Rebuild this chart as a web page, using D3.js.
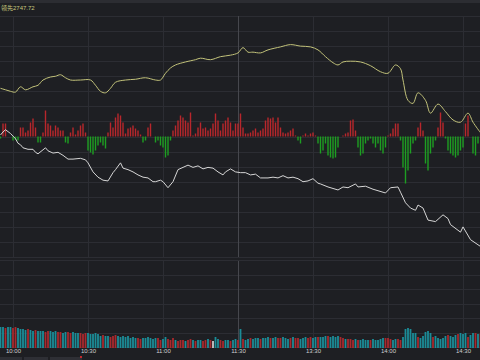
<!DOCTYPE html>
<html>
<head>
<meta charset="utf-8">
<script src="https://cdn.jsdelivr.net/npm/d3@7"></script>
<style>
  body { margin: 0; background: #1e1f23; }
  svg { display: block; }
</style>
</head>
<body>
<div class="chart"></div>
<script>
// session minute: 0 = 09:30, 120 = 11:30 / 13:00, 240 = 15:00
var tickMinutes = [30, 60, 90, 120, 150, 180, 210];
var tickLabels = ["10:00", "10:30", "11:00", "11:30", "13:30", "14:00", "14:30"];
var headerLabel = "领先2747.72";

// leading index, % change vs previous close
var leadLine = [
  [25,0.64],[27,0.62],[29,0.60],[31,0.59],[33,0.66],[35,0.62],[38,0.66],[40,0.68],
  [42,0.75],[45,0.79],[47,0.80],[49,0.82],[51,0.78],[53,0.75],[57,0.75],[61,0.75],
  [63,0.68],[65,0.60],[67,0.58],[69,0.64],[71,0.72],[75,0.75],[79,0.76],[83,0.78],
  [87,0.75],[89,0.75],[91,0.84],[93,0.91],[95,0.95],[99,0.99],[103,1.02],[105,1.04],
  [109,1.02],[113,1.06],[117,1.08],[120,1.11],[122,1.18],[124,1.12],[126,1.12],[129,1.11],
  [132,1.15],[137,1.19],[141,1.22],[145,1.20],[149,1.19],[152,1.15],[155,1.06],[158,0.98],
  [160,0.95],[162,0.99],[165,1.00],[169,0.99],[173,0.94],[177,0.86],[180,0.84],[183,0.95],
  [185,0.90],[186,0.75],[188,0.48],[190,0.44],[192,0.58],[195,0.48],[197,0.31],[200,0.43],
  [203,0.33],[206,0.22],[209,0.19],[212,0.31],[214,0.19],[217,0.05]
];

// index price, % change vs previous close
var priceLine = [
  [25,0.02],[26,0.06],[27,0.09],[29,0.04],[31,-0.03],[32,-0.09],[33,-0.11],[34,-0.15],
  [36,-0.17],[38,-0.17],[39,-0.21],[40,-0.23],[43,-0.15],[44,-0.19],[46,-0.22],[48,-0.21],
  [50,-0.25],[52,-0.30],[54,-0.30],[57,-0.29],[59,-0.31],[60,-0.35],[62,-0.47],[64,-0.54],
  [66,-0.58],[68,-0.59],[70,-0.48],[71,-0.44],[73,-0.35],[74,-0.42],[76,-0.44],[78,-0.47],
  [80,-0.51],[82,-0.54],[84,-0.55],[86,-0.60],[87,-0.60],[89,-0.58],[90,-0.60],[92,-0.68],
  [94,-0.60],[96,-0.44],[98,-0.41],[100,-0.38],[102,-0.41],[104,-0.39],[106,-0.43],[108,-0.41],
  [110,-0.42],[112,-0.47],[114,-0.51],[115,-0.47],[117,-0.43],[119,-0.47],[121,-0.48],[123,-0.48],
  [125,-0.51],[127,-0.50],[129,-0.55],[132,-0.55],[134,-0.54],[136,-0.55],[138,-0.52],[140,-0.55],
  [142,-0.54],[144,-0.56],[146,-0.60],[148,-0.59],[150,-0.56],[152,-0.62],[153,-0.63],[156,-0.67],
  [160,-0.71],[162,-0.67],[164,-0.68],[167,-0.63],[168,-0.67],[171,-0.66],[174,-0.70],[179,-0.75],
  [181,-0.68],[184,-0.67],[185,-0.74],[187,-0.88],[189,-0.95],[191,-0.98],[192,-0.91],[194,-0.95],
  [196,-1.11],[199,-1.13],[202,-1.04],[204,-1.09],[205,-1.17],[209,-1.27],[210,-1.20],[213,-1.37],
  [217,-1.46]
];

// one value per minute, starting at minute 25
var barStart = 25;
var flowBars = [
  -2, 13, 13, 0, 0, -4, -3, -4, 9, 9,
  4, 6, 14, 18, 9, -6, -6, 4, 26, 13,
  11, 6, 11, 9, 6, 6, -6, -7, 4, 9,
  2, 6, 11, 13, 4, -14, -16, -18, -14, -9,
  -6, -9, -12, 4, 14, 9, 19, 23, 21, 14,
  3, 8, 9, 11, 8, 6, 2, -6, -4, 9,
  13, 0, -6, -4, -9, -11, -21, -19, -4, 6,
  11, 16, 21, 19, 16, 14, 24, 1, 3, 9,
  14, 8, 9, 6, 8, 13, 23, 16, 6, 13,
  16, 19, 14, 6, 13, 13, 23, 9, 3, 3,
  4, 6, 8, 4, 6, 8, 16, 19, 18, 19,
  14, 19, 9, 4, 3, 4, 6, 8, 1, -4,
  -7, 1, 3, 1, 3, 4, 1, -7, -17, -14,
  -7, -19, -21, -22, -21, -11, 0, 1, 3, 4,
  16, 17, 6, -11, -19, -17, -7, -4, -2, -7,
  -11, -7, -14, -17, -11, 1, 3, 8, 13, 13,
  -4, -31, -47, -34, -17, -7, -4, 9, 14, 6,
  -27, -34, -17, -11, -4, 9, 24, 14, -2, -14,
  -17, -19, -21, -19, -14, -11, 13, 21, 0, -17,
  -19, -7, 0
];

var volBars = [
  21, 21, 20, 21, 21, 20, 21, 20, 19, 19,
  18, 19, 18, 17, 18, 17, 17, 17, 16, 17,
  17, 16, 17, 16, 16, 15, 16, 16, 15, 16,
  15, 15, 15, 14, 15, 15, 14, 14, 15, 14,
  12, 13, 12, 12, 11, 12, 13, 12, 11, 12,
  11, 12, 10, 11, 10, 10, 9, 10, 10, 11,
  10, 9, 10, 10, 8, 9, 11, 9, 8, 10,
  8, 7, 8, 8, 7, 8, 9, 8, 7, 8,
  8, 7, 8, 9, 8, 7, 11, 9, 8, 7,
  8, 8, 7, 8, 9, 8, 19, 9, 8, 9,
  10, 9, 10, 10, 9, 10, 10, 11, 10, 10,
  11, 10, 10, 11, 10, 9, 10, 11, 10, 10,
  9, 10, 11, 10, 11, 10, 11, 11, 11, 11,
  12, 12, 11, 12, 11, 12, 11, 10, 9, 9,
  9, 8, 9, 8, 8, 9, 8, 8, 8, 9,
  8, 8, 9, 10, 10, 10, 9, 8, 9, 9,
  8, 11, 19, 20, 19, 15, 15, 11, 10, 12,
  16, 17, 15, 11, 12, 10, 9, 10, 12, 13,
  12, 11, 13, 14, 15, 14, 15, 11, 13, 15,
  15, 14, 14
];
// + up minute, - down minute, 0 unchanged
var volDir =
  "--+--++-" + "---+--+---" + "++---++--++---+++" + "------+--+++" +
  "--------++------+" + "+--+++-++" + "+-++-+--" + "++-+0--+" + "+--+--+-" +
  "+--+---+-" + "--+--++---" + "+-++---++--+" + "---+----++-" + "+++-+" +
  "----+-----" + "+++--++" + "------+-" + "----+-" + "----+-" + "--+---+" + "--+-+";

var width = 480, height = 360;
var mainTop = 16, mainBottom = 257, volTop = 261, volBottom = 348;

var svg = d3.select(".chart").append("svg")
    .attr("width", width)
    .attr("height", height)
    .style("font-family", "'Liberation Sans', 'Noto Sans CJK SC', sans-serif");

svg.append("rect")
    .attr("width", width).attr("height", height)
    .attr("fill", "#1e1f23");

// top tab strip
svg.append("rect")
    .attr("x", 0).attr("y", 0).attr("width", width).attr("height", 3)
    .attr("fill", "#2c2d32");

var x = d3.scaleLinear().domain([25, 217]).range([0.5, 480.5]);
var y = d3.scaleLinear().domain([-1.6, 1.6]).range([mainBottom, mainTop]);
var yFlow = d3.scaleLinear().domain([-120.5, 120.5]).range([mainBottom, mainTop]);
var yVol = d3.scaleLinear().domain([0, 87]).range([volBottom, volTop]);

function crisp(v) { return Math.round(v) + 0.5; }

// horizontal grid, main panel
var mainRows = d3.range(0, 17).map(function (i) { return -1.6 + i * 0.2; });
svg.append("g").selectAll("line")
    .data(mainRows)
    .enter()
        .append("line")
        .attr("x1", 0).attr("x2", width)
        .attr("y1", function (d) { return crisp(y(d)); })
        .attr("y2", function (d) { return crisp(y(d)); })
        .attr("stroke", "#2c2d33");

// horizontal grid, volume panel
var volRows = d3.range(0, 7).map(function (i) { return i * 87 / 6; });
svg.append("g").selectAll("line")
    .data(volRows)
    .enter()
        .append("line")
        .attr("x1", 0).attr("x2", width)
        .attr("y1", function (d) { return crisp(yVol(d) - 1); })
        .attr("y2", function (d) { return crisp(yVol(d) - 1); })
        .attr("stroke", "#2c2d33");

// vertical grid in both panels
[[mainTop, mainBottom], [volTop, volBottom]].forEach(function (p) {
  svg.append("g").selectAll("line")
      .data(tickMinutes)
      .enter()
          .append("line")
          .attr("x1", function (d) { return crisp(x(d)); })
          .attr("x2", function (d) { return crisp(x(d)); })
          .attr("y1", p[0]).attr("y2", p[1])
          .attr("stroke", function (d) { return d === 120 ? "#46474d" : "#2c2d33"; });
});

// flow bars around the zero line
svg.append("g").selectAll("rect")
    .data(flowBars)
    .enter()
        .append("rect")
        .attr("x", function (d, i) { return x(barStart + i) - 0.7; })
        .attr("width", 1.4)
        .attr("y", function (d) { return yFlow(Math.max(0, d)); })
        .attr("height", function (d) { return Math.abs(yFlow(d) - yFlow(0)); })
        .attr("fill", function (d) { return d >= 0 ? "#b8272c" : "#1d9e22"; });

// volume bars
svg.append("g").selectAll("rect")
    .data(volBars)
    .enter()
        .append("rect")
        .attr("x", function (d, i) { return x(barStart + i) - 0.9; })
        .attr("width", 1.8)
        .attr("y", function (d) { return yVol(d); })
        .attr("height", function (d) { return yVol(0) - yVol(d); })
        .attr("fill", function (d, i) {
          var c = volDir.charAt(i);
          return c === "+" ? "#a8292d" : (c === "0" ? "#c8c8c8" : "#1b8c97");
        });

var line = d3.line()
    .x(function (d) { return x(d[0]); })
    .y(function (d) { return y(d[1]); });

svg.append("path")
    .datum(leadLine)
    .attr("d", line.curve(d3.curveCatmullRom.alpha(0.5)))
    .attr("fill", "none")
    .attr("stroke", "#c2c27a")
    .attr("stroke-width", 1);

svg.append("path")
    .datum(priceLine)
    .attr("d", line.curve(d3.curveLinear))
    .attr("fill", "none")
    .attr("stroke", "#d6d6d6")
    .attr("stroke-width", 1);

// time labels
var xAxis = d3.axisBottom(x)
    .tickValues(tickMinutes)
    .tickSize(0)
    .tickPadding(0)
    .tickFormat(function (d, i) { return tickLabels[i]; });

var ax = svg.append("g")
    .attr("transform", "translate(0," + 349 + ")")
    .call(xAxis);
ax.select(".domain").remove();
ax.selectAll("text")
    .attr("fill", "#d0d0d0")
    .style("font-size", "6px")
    .style("font-family", "'Liberation Sans', sans-serif");

// header
svg.append("text")
    .attr("x", 1)
    .attr("y", 10)
    .attr("fill", "#c8c87e")
    .style("font-size", "6px")
    .text(headerLabel);

// bottom tab strip
svg.append("g").selectAll("rect")
    .data([[0, 22], [24, 48], [50, 82]])
    .enter()
        .append("rect")
        .attr("x", function (d) { return d[0]; })
        .attr("y", 357)
        .attr("width", function (d) { return d[1] - d[0]; })
        .attr("height", 3)
        .attr("fill", "#2e2f35");
svg.append("rect")
    .attr("x", 80).attr("y", 356).attr("width", 2).attr("height", 2)
    .attr("fill", "#c0282d");
</script>
</body>
</html>
